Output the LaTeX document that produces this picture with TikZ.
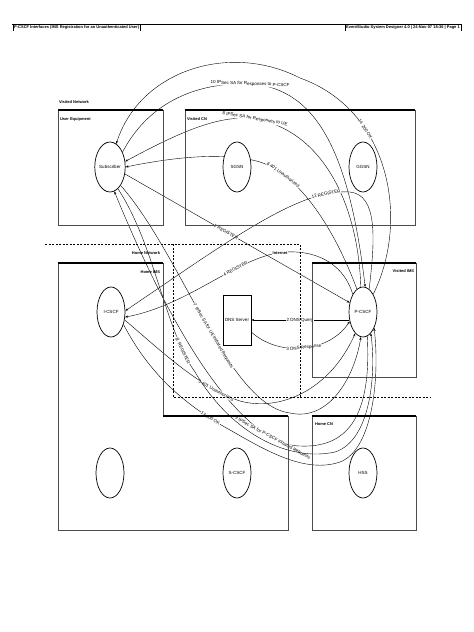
\documentclass[tikz,border=0pt]{standalone}
\usepackage{fontspec}
\setmainfont{Liberation Sans}
\usetikzlibrary{arrows.meta,backgrounds,shapes.geometric}

\tikzset{
  entity/.style={ellipse, draw, line width=0.7pt, fill=white, minimum width=28pt,
    minimum height=50pt, inner sep=0pt, font=\fontsize{4.5}{5}\selectfont},
  server/.style={rectangle, draw, line width=0.6pt, fill=white, minimum width=28pt,
    minimum height=50pt, inner sep=0pt, font=\fontsize{4.5}{5}\selectfont},
  msg/.style={line width=0.4pt, -{Stealth[length=3pt,width=2.2pt]}},
  msglabel/.style={fill=white, inner sep=0.5pt, sloped, font=\fontsize{4.5}{5}\selectfont},
  boxlabel/.style={inner sep=0.8pt, font=\fontsize{4}{5}\selectfont\bfseries},
  headtext/.style={inner sep=1pt, font=\fontsize{4}{5}\selectfont\bfseries},
  boxside/.style={draw=black!70, line width=0.7pt},
  boxtop/.style={line width=1.4pt},
  boundary/.style={line width=0.6pt, dash pattern=on 2pt off 1.5pt},
}

\begin{document}
\begin{tikzpicture}[x=1pt,y=-1pt]
  \useasboundingbox (0,0) rectangle (474,632);

  % header
  \draw[line width=0.8pt] (12,24) -- (462,24);
  \node[headtext, anchor=north west] (title) at (13,24.4) {P-CSCF Interfaces (IMS Registration for an Unauthenticated User)};
  \node[headtext, anchor=north east] (tool) at (461,24.4) {EventStudio System Designer 4.0 | 24-Nov-07 18:36 | Page 1};
  \draw (title.north west) -- (title.south west);
  \draw (title.north east) -- (title.south east);
  \draw (tool.north west) -- (tool.south west);
  \draw (tool.north east) -- (tool.south east);

  % boxes
  \node[boxlabel, anchor=west] (visnet) at (58,102) {Visited Network};
  \draw[boxside] (58,110) rectangle (163,225);
  \draw[boxtop] (58,110) -- (163,110);
  \node[boxlabel, anchor=west] (ue) at (59,119) {User Equipment};
  \draw[boxside] (185,110) rectangle (415,225);
  \draw[boxtop] (185,110) -- (415,110);
  \node[boxlabel, anchor=west] (viscn) at (186,119) {Visited CN};

  \draw[boundary] (45,244) -- (300,244) -- (300,397);
  \draw[boundary] (173,244) -- (173,397) -- (430,397);
  \node[boxlabel, anchor=east] (homenet) at (161,253) {Home Network};

  \draw[boxside] (58,263) -- (163,263) -- (163,416) -- (288,416) -- (288,530) -- (58,530) -- cycle;
  \draw[boxtop] (58,263) -- (163,263);
  \draw[boxtop] (163,416) -- (288,416);
  \node[boxlabel, anchor=east] (homeims) at (161,272) {Home IMS};
  \draw[boxside] (312,263) rectangle (416,377);
  \draw[boxtop] (312,263) -- (416,263);
  \node[boxlabel, anchor=east] (visims) at (415,271) {Visited IMS};
  \draw[boxside] (312,416) rectangle (416,530);
  \draw[boxtop] (312,416) -- (416,416);
  \node[boxlabel, anchor=west] (homecn) at (314,424) {Home CN};

  % entities
  \node[entity] (sub) at (110,167) {Subscriber};
  \node[entity] (sgsn) at (237,167) {SGSN};
  \node[entity] (ggsn) at (363,167) {GGSN};
  \node[entity] (icscf) at (111,312) {I-CSCF};
  \node[entity] (pcscf) at (363,312) {P-CSCF};
  \node[server] (dns) at (237,320) {DNS Server};
  \node[entity] (hnode) at (110,473) {};
  \node[entity] (scscf) at (237,473) {S-CSCF};
  \node[entity] (hss) at (363,473) {HSS};

  % messages
  \begin{pgfonlayer}{background}
    \draw[msg] (sub.-25) -- node[msglabel, pos=0.45] {1 REGISTER} (pcscf.145);
    \draw[msg] (pcscf.west |- dns.east) -- node[msglabel] {2 DNS Query} (dns.east);
    \draw[msg] (dns.-40) .. controls (280,358) and (330,352) .. (pcscf.215)
      node[msglabel, pos=0.5] {3 DNS Response};
    \draw[msg] (pcscf.120) .. controls (345,268) and (322,250) .. (285,252)
      .. controls (240,255) and (190,305) .. (icscf.-20) node[msglabel, pos=0.35] {4 REGISTER};
    \draw[msg] (pcscf.-80) .. controls (372,420) and (345,448) .. (300,446)
      .. controls (265,446) and (200,400) .. (sub.-80)
      node[msglabel, pos=0.22] {9 IPSec SA for P-CSCF Initiated Requests};
    \draw[msg] (icscf.-30) .. controls (160,350) and (200,388) .. (240,401)
      node[msglabel, pos=0.8] {5 401 Unauthorized}
      .. controls (280,412) and (330,390) .. (pcscf.-110);
    \draw[msg] (pcscf.105) .. controls (335,230) and (300,175) .. (260,162)
      node[msglabel, pos=0.8] {6 401 Unauthorized}
      .. controls (220,150) and (160,160) .. (sub.east);
    \draw[msg] (sub.-60) .. controls (182,255) and (228,405) .. (290,413)
      node[msglabel, pos=0.55] {7 IPSec SA for UE Initiated Requests}
      .. controls (330,422) and (355,375) .. (pcscf.-95);
    \draw[msg] (pcscf.95) .. controls (358,200) and (320,130) .. (255,119)
      node[msglabel, pos=1] {8 IPSec SA for Responses to UE}
      .. controls (220,114) and (180,132) .. (sub.20);
    \draw[msg] (sub.50) .. controls (150,100) and (200,82) .. (250,84)
      node[msglabel, pos=1] {10 IPSec SA for Responses to P-CSCF}
      .. controls (320,88) and (350,160) .. (pcscf.85);
    \draw[msg] (sub.-70) .. controls (155,245) and (165,330) .. (195,372)
      node[msglabel, pos=0.85] {11 REGISTER}
      .. controls (232,435) and (290,462) .. (335,452)
      .. controls (372,440) and (376,370) .. (pcscf.-70);
    \draw[msg] (pcscf.75) .. controls (375,240) and (378,195) .. (350,192)
      .. controls (300,188) and (230,240) .. (icscf.5) node[msglabel, pos=0.15] {12 REGISTER};
    \draw[msg] (icscf.-45) .. controls (150,375) and (185,405) .. (230,430)
      node[msglabel, pos=0.85] {13 200 OK}
      .. controls (265,450) and (305,474) .. (340,462)
      .. controls (372,450) and (380,380) .. (pcscf.-55);
    \draw[msg] (pcscf.60) .. controls (410,220) and (390,110) .. (300,78)
      node[msglabel, pos=0.68] {14 200 OK}
      .. controls (230,42) and (140,70) .. (sub.75);
  \end{pgfonlayer}

  \node[boxlabel, fill=white] (internet) at (280,253) {Internet};
\end{tikzpicture}
\end{document}
